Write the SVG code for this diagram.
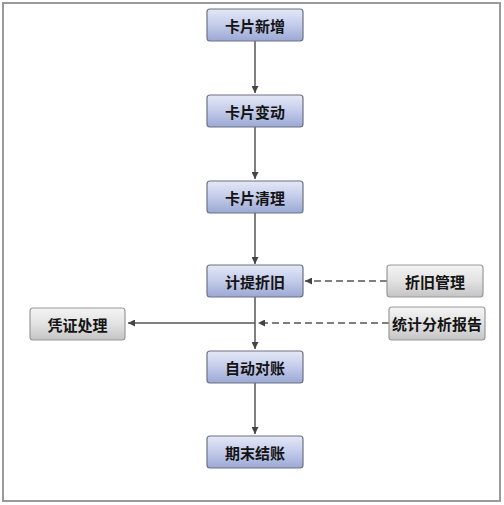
<svg xmlns="http://www.w3.org/2000/svg" width="504" height="505" viewBox="0 0 504 505">
<defs>
<linearGradient id="gb" x1="0" y1="0" x2="0" y2="1">
<stop offset="0" stop-color="#e4e8f6"/>
<stop offset="0.5" stop-color="#c3cbea"/>
<stop offset="1" stop-color="#9ba8d4"/>
</linearGradient>
<linearGradient id="gg" x1="0" y1="0" x2="0" y2="1">
<stop offset="0" stop-color="#f4f4f4"/>
<stop offset="0.5" stop-color="#e2e2e2"/>
<stop offset="1" stop-color="#c4c4c4"/>
</linearGradient>
<marker id="ah" viewBox="0 0 10 10" refX="10" refY="5" markerWidth="7" markerHeight="7" markerUnits="userSpaceOnUse" orient="auto">
<path d="M0,0 L10,5 L0,10 z" fill="#444"/>
</marker>
</defs>
<style>
.bb{fill:url(#gb);stroke:#6d7284;stroke-width:1.2}
.gb{fill:url(#gg);stroke:#9a9a9a;stroke-width:1.2}
.t{font-family:"Noto Sans CJK SC","Liberation Sans",sans-serif;font-size:15px;font-weight:bold;fill:#141414;text-anchor:middle;dominant-baseline:central}
.s{stroke:#555;stroke-width:1.5;fill:none}
.d{stroke:#555;stroke-width:1.5;fill:none;stroke-dasharray:7 4}
</style>
<rect x="3" y="3" width="497" height="498" fill="#fff" stroke="#9a9a9a" stroke-width="2"/>
<g id="connectors">
<line class="s" x1="255" y1="41" x2="255" y2="93" marker-end="url(#ah)"/>
<line class="s" x1="255" y1="127" x2="255" y2="179" marker-end="url(#ah)"/>
<line class="s" x1="255" y1="213" x2="255" y2="264" marker-end="url(#ah)"/>
<line class="s" x1="255" y1="297" x2="255" y2="349" marker-end="url(#ah)"/>
<line class="s" x1="255" y1="383" x2="255" y2="434" marker-end="url(#ah)"/>
<line class="s" x1="255" y1="323" x2="128" y2="323" marker-end="url(#ah)"/>
<line class="d" x1="387" y1="281" x2="305" y2="281" marker-end="url(#ah)"/>
<line class="d" x1="389" y1="323" x2="258" y2="323" marker-end="url(#ah)"/>
</g>
<g id="n1"><rect class="bb" x="207" y="9" width="96" height="32" rx="3"/><text class="t" x="255" y="25">卡片新增</text></g>
<g id="n2"><rect class="bb" x="207" y="95" width="96" height="32" rx="3"/><text class="t" x="255" y="111">卡片变动</text></g>
<g id="n3"><rect class="bb" x="207" y="181" width="96" height="32" rx="3"/><text class="t" x="255" y="197">卡片清理</text></g>
<g id="n4"><rect class="bb" x="207" y="265" width="96" height="32" rx="3"/><text class="t" x="255" y="281">计提折旧</text></g>
<g id="n5"><rect class="bb" x="207" y="351" width="96" height="32" rx="3"/><text class="t" x="255" y="367">自动对账</text></g>
<g id="n6"><rect class="bb" x="207" y="436" width="96" height="32" rx="3"/><text class="t" x="255" y="452">期末结账</text></g>
<g id="n7"><rect class="gb" x="30" y="308" width="95" height="32" rx="3"/><text class="t" x="77.5" y="324">凭证处理</text></g>
<g id="n8"><rect class="gb" x="387" y="265" width="96" height="32" rx="3"/><text class="t" x="435" y="281">折旧管理</text></g>
<g id="n9"><rect class="gb" x="389" y="307" width="96" height="33" rx="3"/><text class="t" x="437" y="323.5">统计分析报告</text></g>
</svg>
